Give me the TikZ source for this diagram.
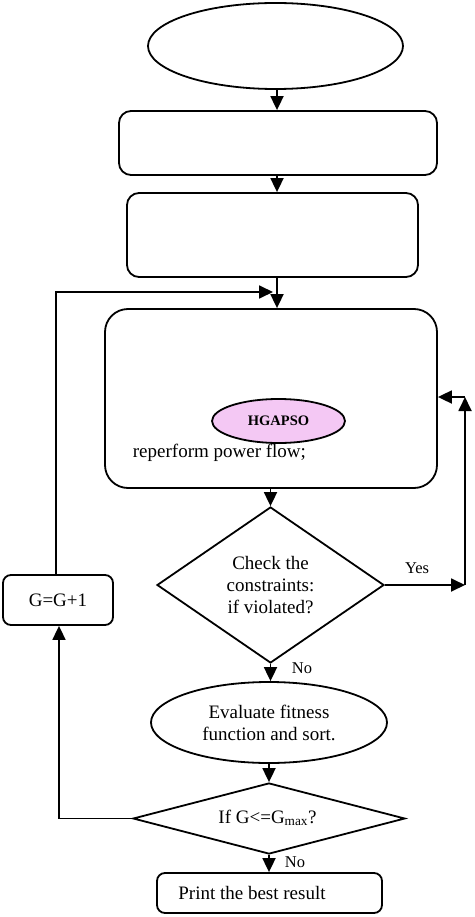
\documentclass[tikz,border=0pt]{standalone}
\usepackage{fontspec}
\setmainfont{Liberation Serif}
\usetikzlibrary{shapes.geometric,arrows.meta}
\definecolor{hpink}{RGB}{244,200,244}
\begin{document}
\begin{tikzpicture}[x=1pt,y=-1pt,
  line width=1.8pt,
  arr/.style={-{Triangle[length=14pt,width=13pt]}},
  rbox/.style={draw,rounded corners=#1,inner sep=0pt},
  txt/.style={font=\fontsize{19}{22}\selectfont,align=center,inner sep=0pt},
  lbl/.style={font=\fontsize{16.5}{19}\selectfont,inner sep=0pt}]
\useasboundingbox[fill=white] (0,0) rectangle (474,917);
% shapes
\node[draw,ellipse,minimum width=255,minimum height=86,inner sep=0pt] (e1) at (275.5,46) {};
\node[rbox=12pt,minimum width=318,minimum height=64] (b1) at (278,143) {};
\node[rbox=12pt,minimum width=291,minimum height=84] (b2) at (272.5,235) {};
\node[rbox=23pt,minimum width=332,minimum height=179] (big) at (271,398.5) {};
\node[draw,ellipse,fill=hpink,minimum width=133,minimum height=44,inner sep=0pt,font=\fontsize{14.5}{16}\selectfont\bfseries] (hg) at (278.5,421) {HGAPSO};
\node[txt,anchor=west] (rp) at (132,453) {reperform power flow;};
\node[draw,diamond,minimum width=227,minimum height=156,inner sep=0pt,txt] (d1) at (270.5,585) {Check the\\constraints:\\if violated?};
\node[draw,ellipse,minimum width=236,minimum height=81,inner sep=0pt,txt] (e2) at (269,722.5) {Evaluate fitness\\function and sort.};
\node[draw,diamond,minimum width=272,minimum height=71,inner sep=0pt] (d2) at (269,818.5) {};
\node[txt] (d2t) at (267.5,818) {If G<=G\textsubscript{max}?};
\node[rbox=8pt,minimum width=110,minimum height=50,txt] (g) at (58,600) {G=G+1};
\node[rbox=8pt,minimum width=225,minimum height=40] (pr) at (269.5,893) {};
\node[txt] (prt) at (252,893) {Print the best result};
% labels
\node[lbl] (yes) at (417,568) {Yes};
\node[lbl] (no1) at (302,668) {No};
\node[lbl] (no2) at (295,862) {No};
% helper coordinates
\coordinate (ax) at (277,0);
\coordinate (lp) at (273,292);
\coordinate (yr) at (465,585);
\coordinate (yt) at (465,397);
\coordinate (gl) at (59,818.5);
% connectors
\draw[arr] (e1.south -| ax) -- (b1.north -| ax);
\draw[arr] (b1.south -| ax) -- (b2.north -| ax);
\draw[arr] (b2.south -| ax) -- (big.north -| ax);
\draw[arr] (g.north -| 56,0) -- (56,292) -- (lp);
\draw[arr] (big.south -| d1.north) -- (d1.north);
\draw[arr] (d1.east) -- (yr);
\draw[arr] (yr) -- (yt);
\draw[arr] (yt) -- (big.east |- yt);
\draw[arr] (d1.south) -- (e2.north -| d1.south);
\draw[arr] (e2.south) -- (d2.north);
\draw[arr] (d2.south) -- (pr.north -| d2.south);
\draw[arr] (d2.west) -- (gl) -- (g.south -| gl);
\end{tikzpicture}
\end{document}
